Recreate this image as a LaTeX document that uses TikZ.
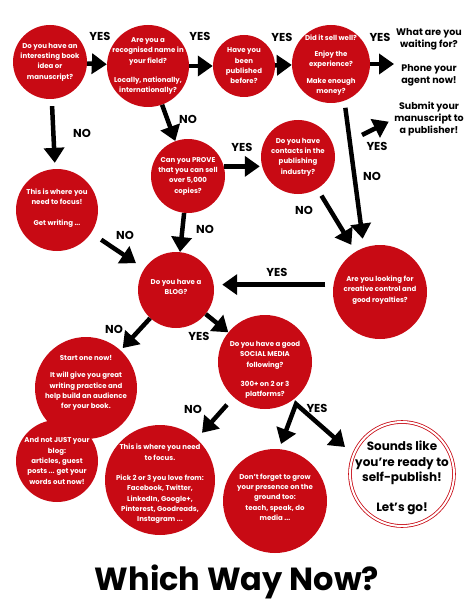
\documentclass[tikz,border=0pt]{standalone}
\usepackage{fontspec}
\setmainfont{Poppins}
\usetikzlibrary{arrows.meta,calc}
\definecolor{bubred}{RGB}{200,10,20}
\begin{document}
\begin{tikzpicture}[x=1pt,y=-1pt,
  bub/.style={circle,fill=bubred,inner sep=0pt,minimum size=#1},
  btxt/.style={text=white,align=center,font=\bfseries\fontsize{7}{10.3}\selectfont,inner sep=0pt},
  lab/.style={font=\bfseries\fontsize{11.5}{12}\selectfont,inner sep=0pt},
  sidetxt/.style={align=center,font=\bfseries\fontsize{9.5}{12}\selectfont,inner sep=0pt},
  arr/.style={line width=4.5pt,-{Triangle[width=20pt,length=15pt]}},
  dblarr/.style={line width=4.5pt,{Triangle[width=20pt,length=15pt]}-{Triangle[width=20pt,length=15pt]}},
]
\useasboundingbox (0,0) rectangle (474,607);

% bubbles
\node[bub=74pt] (c1) at (50,62) {};
\node[btxt] (t1) at (50,62) {Do you have an\\interesting book\\idea or\\manuscript?};
\node[bub=82pt] (c2) at (148,66) {};
\node[btxt] (t2) at (148,66) {Are you a\\recognised name in\\your field?\\[9pt]Locally, nationally,\\internationally?};
\node[bub=62pt] (c3) at (244,66) {};
\node[btxt] (t3) at (244,66) {Have you\\been\\published\\before?};
\node[bub=78pt] (c4) at (331,64) {};
\node[btxt] (t4) at (331,65) {Did it sell well?\\[6pt]Enjoy the\\experience?\\[6pt]Make enough\\money?};
\node[bub=82pt] (c7) at (57,210) {};
\node[btxt] (t7) at (57,208) {This is where you\\need to focus!\\[10pt]Get writing ...};
\node[bub=74pt] (c8) at (188,176) {};
\node[btxt] (t8) at (188,176) {Can you PROVE\\that you can sell\\over 5,000\\copies?};
\node[bub=74pt] (c9) at (298,157) {};
\node[btxt] (t9) at (298,157) {Do you have\\contacts in the\\publishing\\industry?};
\node[bub=76pt] (c10) at (176,290) {};
\node[btxt] (t10) at (176,287) {Do you have a\\BLOG?};
\node[bub=94pt] (c11) at (380,292) {};
\node[btxt] (t11) at (380,290) {Are you looking for\\creative control and\\good royalties?};
\node[bub=94pt] (c12) at (265,362) {};
\node[btxt] (t12) at (265,370) {Do you have a good\\SOCIAL MEDIA\\following?\\[9pt]300+ on 2 or 3\\platforms?};
\node[bub=102pt] (c13) at (86,388) {};
\node[btxt] (t13) at (86,383) {Start one now!\\[7pt]It will give you great\\writing practice and\\help build an audience\\for your book.};
\node[bub=82pt] (c14) at (57,461) {};
\node[btxt] (t14) at (57,461) {And not JUST your\\blog:\\articles, guest\\posts ... get your\\words out now!};
\node[bub=110pt] (c15) at (160,480) {};
\node[btxt] (t15) at (160,484) {This is where you need\\to focus.\\[10pt]Pick 2 or 3 you love from:\\Facebook, Twitter,\\LinkedIn, Google+,\\Pinterest, Goodreads,\\Instagram ...};
\node[bub=104pt] (c16) at (275,501) {};
\node[btxt] (t16) at (275,497) {Don't forget to grow\\your presence on the\\ground too:\\teach, speak, do\\media ...};
\node[circle,minimum size=104pt,draw=bubred,line width=0.8pt,double=white,double distance=2pt,fill=white] (c17) at (402,474) {};
\node[align=center,font=\bfseries\fontsize{12}{15.5}\selectfont,inner sep=0pt] (t17) at (402,478) {Sounds like\\you're ready to\\self-publish!\\[14pt]Let's go!};

% side texts
\node[sidetxt] (w1) at (429,57) {What are you\\waiting for?\\[12pt]Phone your\\agent now!};
\node[sidetxt] (sub) at (429,119) {Submit your\\manuscript to\\a publisher!};

% arrows
\draw[arr] (c1) -- (c2);
\draw[arr] (c2) -- (c3);
\draw[arr] (c3) -- (c4);
\draw[arr,shorten >=2pt] (c4.east) -- (c4.east -| w1.west);
\draw[arr,shorten <=7pt,shorten >=6pt] (c1) -- (c7);
\draw[arr] (c2) -- (c8);
\draw[arr,shorten >=1pt] (c8.15) -- (c8.15 -| c9.west);
\draw[arr] (c8) -- (c10);
\draw[arr,shorten <=12pt,shorten >=10pt] (c7) -- (c10);
\draw[arr,shorten <=8pt,shorten >=8pt] (c9) -- (c11);
\draw[arr,shorten <=7pt,shorten >=9pt] (c4.-70) -- (c11.110);
\coordinate (ys) at (362,135);
\draw[arr,shorten >=6pt] (ys) -- (sub.west);
\draw[arr,shorten <=8pt,shorten >=8pt] (c11.171) -- (c11.171 -| c10.east);
\draw[arr] (c10) -- (c12);
\draw[arr,shorten >=3pt] (c10) -- (c13);
\draw[arr,shorten <=10pt,shorten >=8pt] (c12) -- (c15);
\coordinate (br) at (296,404);
\coordinate (e16) at (281,444);
\coordinate (e17) at (345,447);
\draw[dblarr] (e16) -- (br) -- (e17);

% labels
\node[lab] (l1) at (100,36) {YES};
\node[lab] (l2) at (200,36) {YES};
\node[lab] (l3) at (282,37) {YES};
\node[lab] (l4) at (380,37) {YES};
\node[lab] (l5) at (188,119) {NO};
\node[lab] (l6) at (82,133) {NO};
\node[lab] (l7) at (125,235) {NO};
\node[lab] (l8) at (205,229) {NO};
\node[lab] (l9) at (242,147) {YES};
\node[lab] (l10) at (377,146) {YES};
\node[lab] (l11) at (372,176) {NO};
\node[lab] (l12) at (304,210) {NO};
\node[lab] (l13) at (277,272) {YES};
\node[lab] (l14) at (114,329) {NO};
\node[lab] (l15) at (199,336) {YES};
\node[lab] (l16) at (193,409) {NO};
\node[lab] (l17) at (317,408) {YES};

% title
\node[font=\bfseries\fontsize{32}{36}\selectfont,anchor=base,inner sep=0pt] (title) at (237,590) {Which Way Now?};
\end{tikzpicture}
\end{document}
